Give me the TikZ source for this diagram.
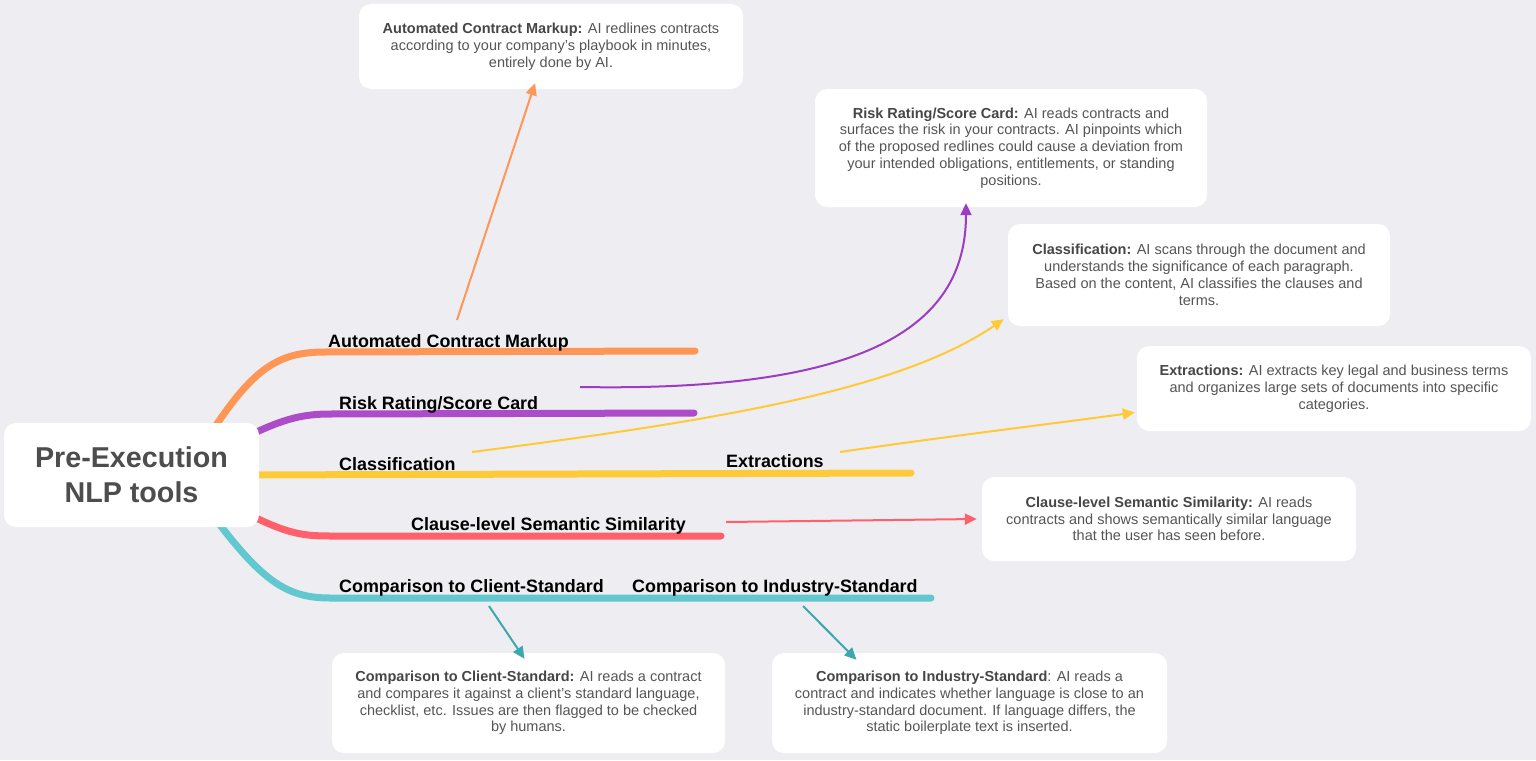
\documentclass[tikz,border=0pt]{standalone}
\usepackage{fontspec}
\setmainfont{Liberation Sans}
\usetikzlibrary{arrows.meta,calc}
\definecolor{bg}{RGB}{238,237,242}
\definecolor{corange}{RGB}{255,150,85}
\definecolor{cpurple}{RGB}{172,76,200}
\definecolor{cpurplearr}{RGB}{155,60,195}
\definecolor{cyellow}{RGB}{255,202,55}
\definecolor{cred}{RGB}{255,96,108}
\definecolor{cteal}{RGB}{96,200,206}
\definecolor{ctealarr}{RGB}{60,168,174}
\definecolor{dtext}{RGB}{85,85,85}
\definecolor{btext}{RGB}{70,70,70}
\tikzset{
  branch/.style={line width=7pt,line cap=round},
  conn/.style={line width=2pt,-{Triangle[length=12pt,width=11pt]}},
  descbox/.style={fill=white,rounded corners=12pt,align=center,text=dtext,
    font={\fontsize{14.5}{16.8}\selectfont},inner sep=0pt},
  blabel/.style={anchor=base west,font={\fontsize{17.9}{20}\selectfont\bfseries},text=black,inner sep=0pt},
}
\newcommand{\hd}[1]{\textcolor{btext}{\textbf{#1}}}
\begin{document}
\begin{tikzpicture}[x=1pt,y=-1pt]
\fill[bg] (0,0) rectangle (1536,760);
\useasboundingbox (0,0) rectangle (1536,760);

% branches
\draw[branch,corange] (200,450) .. controls (250,370) and (275,352) .. (325,352) -- (695,351);
\draw[branch,cpurple] (240,440) .. controls (280,420) and (300,414) .. (330,414) -- (694,413);
\draw[branch,cyellow] (240,475) -- (911,473);
\draw[branch,cred] (240,510) .. controls (285,533) and (300,536) .. (330,536) -- (721,536);
\draw[branch,cteal] (205,505) .. controls (260,580) and (285,598) .. (330,598) -- (931,598);

% centre
\node[fill=white,rounded corners=12pt,minimum width=255pt,minimum height=104pt,inner sep=0pt,
  align=center,text={rgb,255:red,77;green,77;blue,77},font={\fontsize{28.7}{35}\selectfont\bfseries}]
  (center) at (131.5,475) {Pre-Execution\\NLP tools};

% branch labels
\node[blabel] (lauto) at (328,347) {Automated Contract Markup};
\node[blabel] (lrisk) at (339,409) {Risk Rating/Score Card};
\node[blabel] (lclass) at (339,470) {Classification};
\node[blabel] (lext) at (726,467) {Extractions};
\node[blabel] (lclause) at (411,530) {Clause-level Semantic Similarity};
\node[blabel] (lclient) at (339,592) {Comparison to Client-Standard};
\node[blabel] (lind) at (632,592) {Comparison to Industry-Standard};

% description boxes
\node[descbox,minimum width=384pt,minimum height=85pt] (bauto) at (551,46.5)
 {\hd{Automated Contract Markup:} AI redlines contracts\\according to your company's playbook in minutes,\\entirely done by AI.};
\node[descbox,minimum width=392pt,minimum height=118pt] (brisk) at (1011,148)
 {\hd{Risk Rating/Score Card:} AI reads contracts and\\surfaces the risk in your contracts. AI pinpoints which\\of the proposed redlines could cause a deviation from\\your intended obligations, entitlements, or standing\\positions.};
\node[descbox,minimum width=382pt,minimum height=102pt] (bclass) at (1199,275)
 {\hd{Classification:} AI scans through the document and\\understands the significance of each paragraph.\\Based on the content, AI classifies the clauses and\\terms.};
\node[descbox,minimum width=394pt,minimum height=85pt] (bext) at (1334,388.5)
 {\hd{Extractions:} AI extracts key legal and business terms\\and organizes large sets of documents into specific\\categories.};
\node[descbox,minimum width=374pt,minimum height=84pt] (bclause) at (1169,519)
 {\hd{Clause-level Semantic Similarity:} AI reads\\contracts and shows semantically similar language\\that the user has seen before.};
\node[descbox,minimum width=393pt,minimum height=100pt] (bclient) at (528.5,703)
 {\hd{Comparison to Client-Standard:} AI reads a contract\\and compares it against a client's standard language,\\checklist, etc. Issues are then flagged to be checked\\by humans.};
\node[descbox,minimum width=395pt,minimum height=100pt] (bind) at (969.5,703)
 {\hd{Comparison to Industry-Standard}: AI reads a\\contract and indicates whether language is close to an\\industry-standard document. If language differs, the\\static boilerplate text is inserted.};

% connector endpoints
\coordinate (sauto) at (457,320);
\coordinate (eauto) at ($(bauto.south)+(-16,-6)$);
\coordinate (srisk) at (580,387);
\coordinate (erisk) at ($(brisk.south)+(-45,-4)$);
\coordinate (sclass) at (472,452);
\coordinate (eclass) at ($(bclass.south west)+(-4,-7)$);
\coordinate (sext) at (840,452);
\coordinate (eext) at ($(bext.west)+(-2,24)$);
\coordinate (sclause) at (726,522);
\coordinate (eclause) at ($(bclause.west)+(-5,0)$);
\coordinate (sclient) at (489,606);
\coordinate (eclient) at ($(bclient.north)+(-4,6)$);
\coordinate (sind) at (803,606);
\coordinate (eind) at ($(bind.north)+(-113,7)$);

\draw[conn,corange] (sauto) -- (eauto);
\draw[conn,cpurplearr] (srisk) .. controls (860,392) and (966,330) .. (erisk);
\draw[conn,cyellow] (sclass) .. controls (720,420) and (900,390) .. (eclass);
\draw[conn,cyellow] (sext) .. controls (950,436) and (1050,424) .. (eext);
\draw[conn,cred] (sclause) -- (eclause);
\draw[conn,ctealarr] (sclient) -- (eclient);
\draw[conn,ctealarr] (sind) -- (eind);
\end{tikzpicture}
\end{document}
